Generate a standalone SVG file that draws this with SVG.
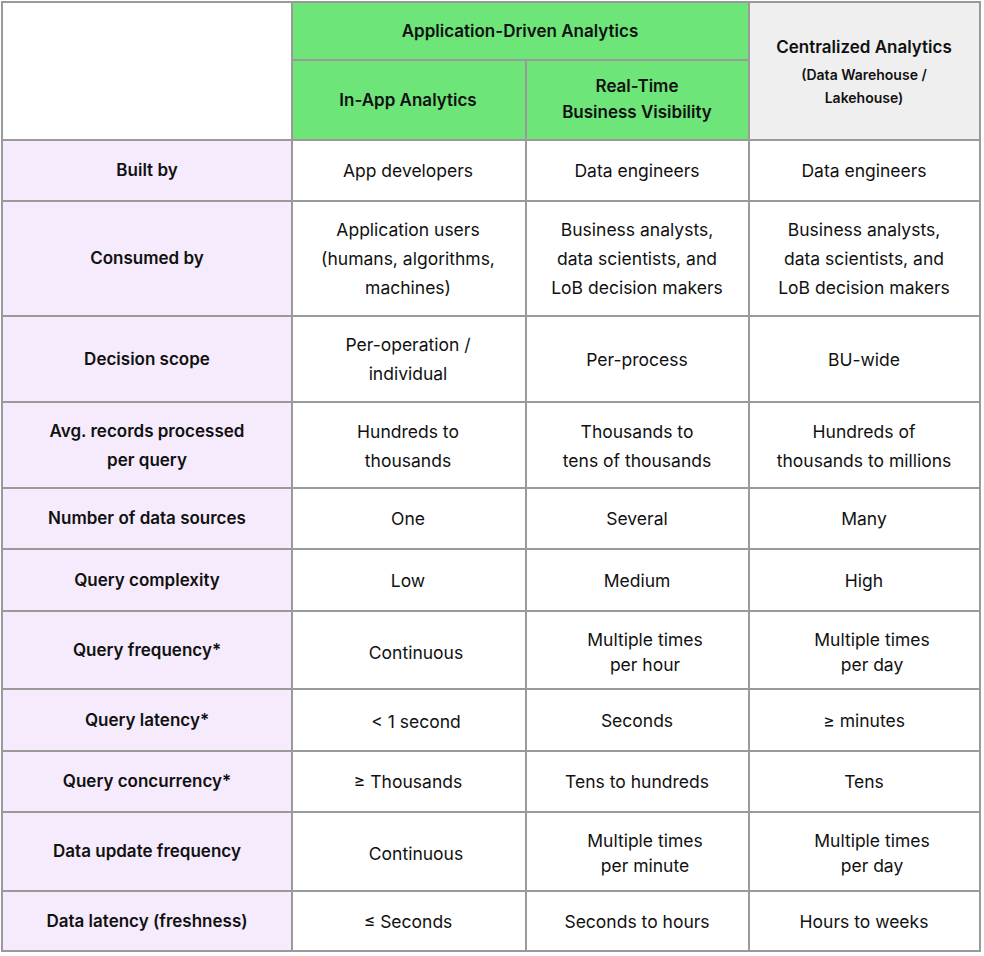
<svg xmlns="http://www.w3.org/2000/svg" width="984" height="956" viewBox="0 0 984 956">
<style>
text{font-family:Inter,"Noto Sans",sans-serif;fill:#111;text-anchor:middle;dominant-baseline:central}
.b{font-size:17.5px}
.h{font-size:17px;font-weight:600}
.s{font-size:14px;font-weight:600}
.g{stroke:#9a9a9a;stroke-width:2;fill:none}
</style>
<rect width="984" height="956" fill="#fff"/>
<g id="fills">
<rect x="292" y="2" width="457" height="138" fill="#6de579"/>
<rect x="749" y="2" width="231" height="138" fill="#efefef"/>
<rect x="2" y="140" width="290" height="811" fill="#f6ebfc"/>
</g>
<g id="connectors" class="g">
<rect x="2" y="2" width="978" height="949"/>
<line x1="292" y1="2" x2="292" y2="951"/>
<line x1="749" y1="2" x2="749" y2="951"/>
<line x1="526" y1="60" x2="526" y2="951"/>
<line x1="292" y1="60" x2="749" y2="60"/>
<path d="M2 140H980M2 201H980M2 316H980M2 402H980M2 488H980M2 549H980M2 611H980M2 689H980M2 751H980M2 812H980M2 891H980"/>
</g>
<g id="header">
<text class="h" x="520" y="31">Application-Driven Analytics</text>
<text class="h" x="408" y="100">In-App Analytics</text>
<text class="h" x="637" y="86">Real-Time</text>
<text class="h" x="637" y="112">Business Visibility</text>
<text class="h" x="864" y="47">Centralized Analytics</text>
<text class="s" x="864" y="74">(Data Warehouse /</text>
<text class="s" x="864" y="97">Lakehouse)</text>
</g>
<g id="labels" class="h">
<text class="h" x="147" y="170">Built by</text>
<text class="h" x="147" y="258">Consumed by</text>
<text class="h" x="147" y="359">Decision scope</text>
<text class="h" x="147" y="431">Avg. records processed</text>
<text class="h" x="147" y="460">per query</text>
<text class="h" x="147" y="518">Number of data sources</text>
<text class="h" x="147" y="580">Query complexity</text>
<text class="h" x="147" y="650">Query frequency*</text>
<text class="h" x="147" y="720">Query latency*</text>
<text class="h" x="147" y="781">Query concurrency*</text>
<text class="h" x="147" y="851">Data update frequency</text>
<text class="h" x="147" y="921">Data latency (freshness)</text>
</g>
<g id="col1">
<text class="b" x="408" y="170">App developers</text>
<text class="b" x="408" y="229">Application users</text>
<text class="b" x="408" y="258">(humans, algorithms,</text>
<text class="b" x="408" y="287">machines)</text>
<text class="b" x="408" y="344">Per-operation /</text>
<text class="b" x="408" y="373">individual</text>
<text class="b" x="408" y="431">Hundreds to</text>
<text class="b" x="408" y="460">thousands</text>
<text class="b" x="408" y="518">One</text>
<text class="b" x="408" y="580">Low</text>
<text class="b" x="416" y="652">Continuous</text>
<text class="b" x="416" y="721">&lt; 1 second</text>
<text class="b" x="408" y="781">≥ Thousands</text>
<text class="b" x="416" y="853">Continuous</text>
<text class="b" x="408" y="921">≤ Seconds</text>
</g>
<g id="col2">
<text class="b" x="637" y="170">Data engineers</text>
<text class="b" x="637" y="229">Business analysts,</text>
<text class="b" x="637" y="258">data scientists, and</text>
<text class="b" x="637" y="287">LoB decision makers</text>
<text class="b" x="637" y="359">Per-process</text>
<text class="b" x="637" y="431">Thousands to</text>
<text class="b" x="637" y="460">tens of thousands</text>
<text class="b" x="637" y="518">Several</text>
<text class="b" x="637" y="580">Medium</text>
<text class="b" x="645" y="639">Multiple times</text>
<text class="b" x="645" y="664">per hour</text>
<text class="b" x="637" y="720">Seconds</text>
<text class="b" x="637" y="781">Tens to hundreds</text>
<text class="b" x="645" y="840">Multiple times</text>
<text class="b" x="645" y="865">per minute</text>
<text class="b" x="637" y="921">Seconds to hours</text>
</g>
<g id="col3">
<text class="b" x="864" y="170">Data engineers</text>
<text class="b" x="864" y="229">Business analysts,</text>
<text class="b" x="864" y="258">data scientists, and</text>
<text class="b" x="864" y="287">LoB decision makers</text>
<text class="b" x="864" y="359">BU-wide</text>
<text class="b" x="864" y="431">Hundreds of</text>
<text class="b" x="864" y="460">thousands to millions</text>
<text class="b" x="864" y="518">Many</text>
<text class="b" x="864" y="580">High</text>
<text class="b" x="872" y="639">Multiple times</text>
<text class="b" x="872" y="664">per day</text>
<text class="b" x="864" y="720">≥ minutes</text>
<text class="b" x="864" y="781">Tens</text>
<text class="b" x="872" y="840">Multiple times</text>
<text class="b" x="872" y="865">per day</text>
<text class="b" x="864" y="921">Hours to weeks</text>
</g>
</svg>
